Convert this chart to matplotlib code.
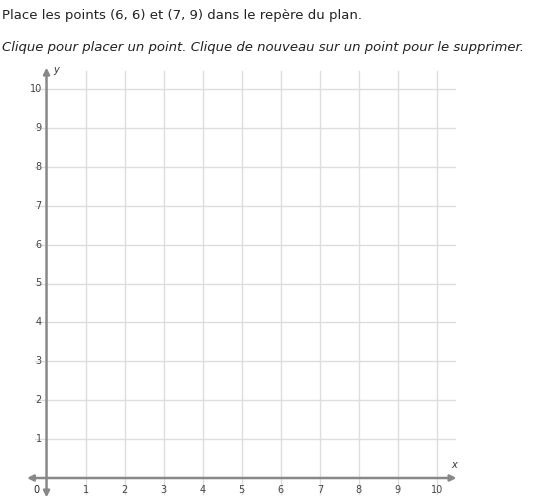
import matplotlib.pyplot as plt

x_ticks = [1, 2, 3, 4, 5, 6, 7, 8, 9, 10]
y_ticks = [1, 2, 3, 4, 5, 6, 7, 8, 9, 10]
prompt = "Place les points (6, 6) et (7, 9) dans le repère du plan."
hint = "Clique pour placer un point. Clique de nouveau sur un point pour le supprimer."

fig = plt.figure(figsize=(5.44, 5.0), dpi=100)
fig.text(0.004, 0.982, prompt, fontsize=9.5, va='top', color='#222222')
fig.text(0.004, 0.918, hint, fontsize=9.5, va='top', style='italic', color='#222222')

ax = fig.add_axes([27 / 544, 0.6 / 500, 429.5 / 544, 431.8 / 500])
ax.set_xlim(-0.5, 10.5)
ax.set_ylim(-0.55, 10.55)
ax.axis('off')

grid = '#dddddd'
axc = '#888888'
for x in x_ticks:
    ax.plot([x, x], [-0.4, 10.45], color=grid, lw=1, zorder=1)
    ax.text(x, -0.3, str(x), ha='center', va='center', fontsize=7, color='#444444', zorder=3)
for y in y_ticks:
    ax.plot([-0.3, 10.45], [y, y], color=grid, lw=1, zorder=1)
    ax.text(-0.12, y, str(y), ha='right', va='center', fontsize=7, color='#444444', zorder=3)
ax.text(-0.25, -0.3, '0', ha='center', va='center', fontsize=7, color='#222222')

arrow = dict(arrowstyle='<|-|>', color=axc, lw=1.8, mutation_scale=9, shrinkA=0, shrinkB=0)
ax.annotate('', xy=(-0.5, 0), xytext=(10.5, 0), arrowprops=arrow, zorder=2)
ax.annotate('', xy=(0, -0.5), xytext=(0, 10.55), arrowprops=arrow, zorder=2)
ax.text(10.45, 0.25, 'x', style='italic', fontsize=7, ha='center', color='#333333')
ax.text(0.25, 10.42, 'y', style='italic', fontsize=7, ha='center', color='#333333')

fig.savefig('out.png', dpi=100)
